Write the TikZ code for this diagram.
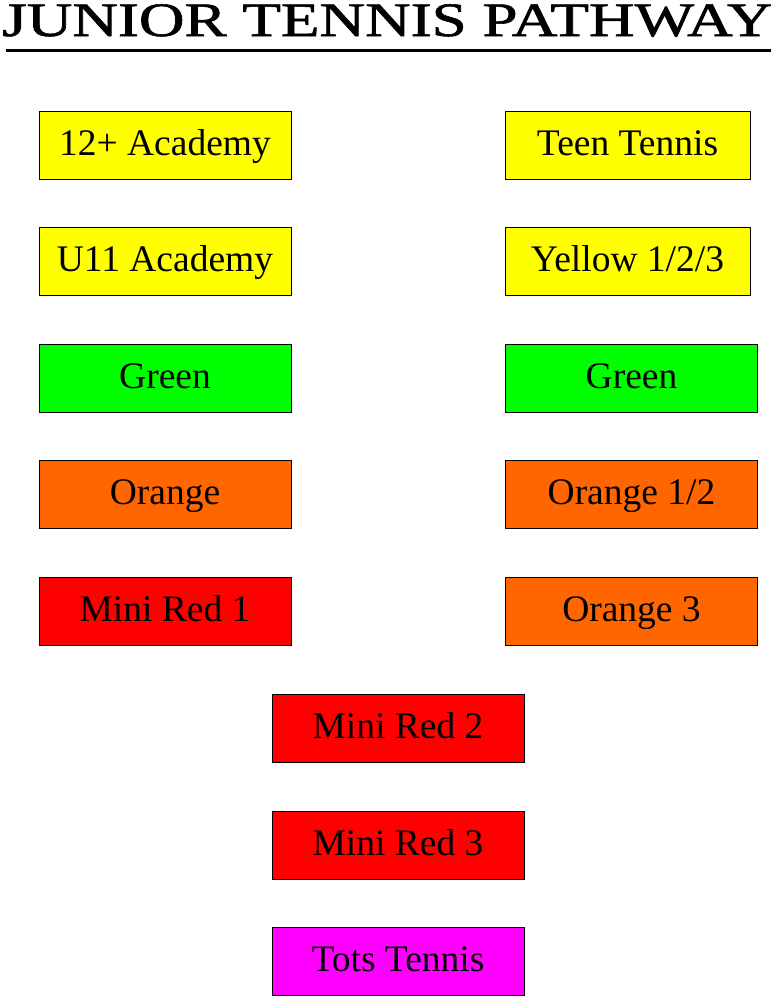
\documentclass[tikz,border=0pt]{standalone}
\usepackage{fontspec}
\setmainfont{Liberation Serif}
\newfontfamily\titlefont[FakeBold=1.2]{Liberation Serif}
\usepackage{xcolor}
\usepackage{tikz}

\definecolor{lvlyellow}{HTML}{FFFF00}
\definecolor{lvlgreen}{HTML}{00FF00}
\definecolor{lvlorange}{HTML}{FF6600}
\definecolor{lvlred}{HTML}{FF0000}
\definecolor{lvltots}{HTML}{FF00FF}

\begin{document}
\begin{tikzpicture}[x=1pt, y=-1pt,
      lvl/.style={rectangle, draw=black, line width=1pt, inner sep=0pt,
        minimum width=252pt, minimum height=68pt,
        text height=25pt, text depth=5pt,
        font=\fontsize{37.5}{37.5}\selectfont},
      narrow/.style={minimum width=245pt}
      ]
      \useasboundingbox (0,0) rectangle (771,997);

      \node[anchor=base west, inner sep=0pt] (title) at (2,36)
        {\scalebox{1.315}[1]{\titlefont\fontsize{48}{48}\selectfont JUNIOR TENNIS PATHWAY}};
      \coordinate (ulA) at (6,50);
      \coordinate (ulB) at (771,50);
      \draw[line width=3pt] (ulA) -- (ulB);

      \node[lvl, fill=lvlyellow] (acad12) at (165,145) {12+ Academy};
      \node[lvl, fill=lvlyellow] (u11) at (165,261.5) {U11 Academy};
      \node[lvl, fill=lvlgreen] (greenL) at (165,378) {Green};
      \node[lvl, fill=lvlorange] (orangeL) at (165,494.5) {Orange};
      \node[lvl, fill=lvlred] (red1) at (165,611) {Mini Red 1};

      \node[lvl, narrow, fill=lvlyellow] (teen) at (627.5,145) {Teen Tennis};
      \node[lvl, narrow, fill=lvlyellow] (yellow) at (627.5,261.5) {Yellow 1/2/3};
      \node[lvl, fill=lvlgreen] (greenR) at (631.5,378) {Green};
      \node[lvl, fill=lvlorange] (orange12) at (631.5,494.5) {Orange 1/2};
      \node[lvl, fill=lvlorange] (orange3) at (631.5,611) {Orange 3};

      \node[lvl, fill=lvlred] (red2) at (398,728) {Mini Red 2};
      \node[lvl, fill=lvlred] (red3) at (398,845) {Mini Red 3};
      \node[lvl, fill=lvltots] (tots) at (398,961.5) {Tots Tennis};
    \end{tikzpicture}
\end{document}
